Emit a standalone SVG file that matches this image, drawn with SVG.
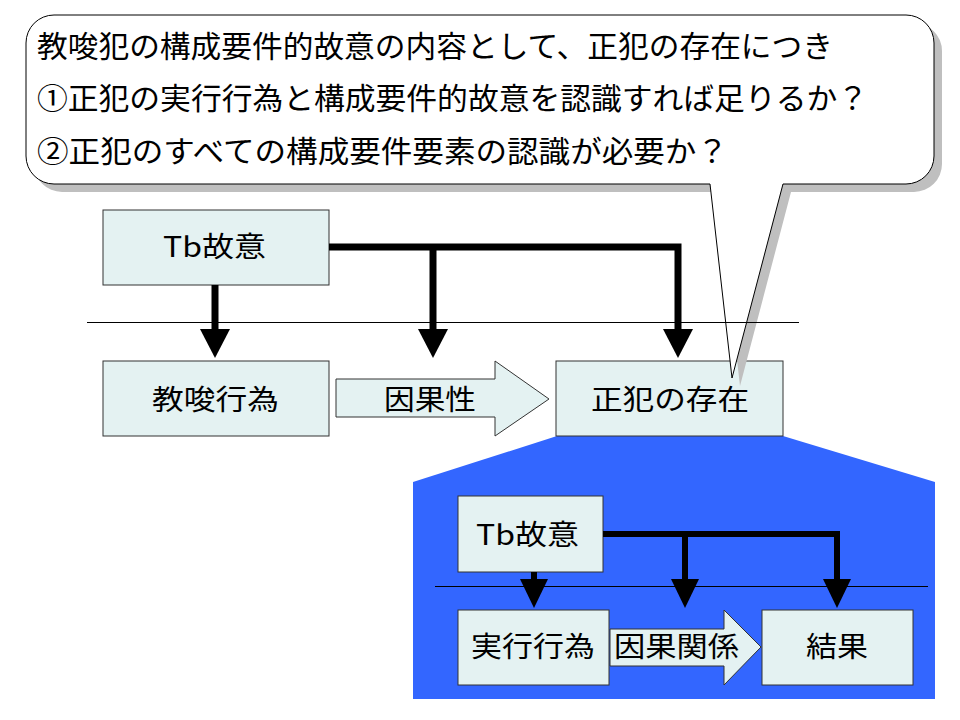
<svg xmlns="http://www.w3.org/2000/svg" width="960" height="720" viewBox="0 0 960 720">
  <defs>
    <style>
      .box { fill: #E4F2F2; stroke: #333333; stroke-width: 1; }
      .lbl { font-family: "Noto Sans CJK JP", "Liberation Sans", sans-serif; font-size: 28px; fill: #000000; }
      .big { font-family: "Noto Sans CJK JP", "Liberation Sans", sans-serif; font-size: 30px; fill: #000000; }
      .conn { fill: none; stroke: #000000; stroke-width: 7; stroke-linejoin: miter; }
      .conn2 { fill: none; stroke: #000000; stroke-width: 6; stroke-linejoin: miter; }
      .head { fill: #000000; stroke: none; }
      .rule { stroke: #000000; stroke-width: 1; fill: none; }
    </style>
  </defs>
  <rect x="0" y="0" width="960" height="720" fill="#FFFFFF"/>

  <!-- blue expansion region -->
  <polygon id="detail-region" points="557,436 783,436 935,482 935,699 413,699 413,482" fill="#3366FF"/>

  <!-- top level nodes -->
  <g id="tb-intent">
    <rect class="box" x="103" y="210" width="226" height="75"/>
    <text class="lbl" x="163" y="257" textLength="103" lengthAdjust="spacingAndGlyphs">Tb故意</text>
  </g>
  <g id="instigation">
    <rect class="box" x="103" y="361" width="226" height="75"/>
    <text class="lbl" x="152" y="410" textLength="127" lengthAdjust="spacingAndGlyphs">教唆行為</text>
  </g>
  <g id="causality">
    <polygon class="box" points="336,379 495,379 495,361 549,399 495,436 495,417 336,417"/>
    <text class="lbl" x="384" y="410" textLength="92" lengthAdjust="spacingAndGlyphs">因果性</text>
  </g>
  <g id="principal">
    <rect class="box" x="556" y="361" width="227" height="75"/>
    <text class="lbl" x="591" y="410" textLength="158" lengthAdjust="spacingAndGlyphs">正犯の存在</text>
  </g>

  <!-- inner nodes -->
  <g id="tb-intent-2">
    <rect class="box" x="458" y="496" width="145" height="76"/>
    <text class="lbl" x="476" y="545" textLength="103" lengthAdjust="spacingAndGlyphs">Tb故意</text>
  </g>
  <g id="act">
    <rect class="box" x="458" y="610" width="151" height="75"/>
    <text class="lbl" x="471" y="657" textLength="124" lengthAdjust="spacingAndGlyphs">実行行為</text>
  </g>
  <g id="causal-relation">
    <polygon class="box" points="610,629 724,629 724,610 761,647 724,685 724,666 610,666"/>
    <text class="lbl" x="614" y="657" textLength="125" lengthAdjust="spacingAndGlyphs">因果関係</text>
  </g>
  <g id="result">
    <rect class="box" x="762" y="610" width="151" height="75"/>
    <text class="lbl" x="806" y="657" textLength="62" lengthAdjust="spacingAndGlyphs">結果</text>
  </g>

  <!-- connectors -->
  <g id="connectors">
    <line class="conn" x1="215" y1="285" x2="215" y2="331"/>
    <polygon class="head" points="200,329 230,329 215,358"/>
    <path class="conn" d="M329,247 H678 V331"/>
    <line class="conn" x1="433" y1="247" x2="433" y2="331"/>
    <polygon class="head" points="418,329 448,329 433,358"/>
    <polygon class="head" points="663,329 693,329 678,358"/>

    <line class="conn2" x1="534" y1="572" x2="534" y2="581"/>
    <polygon class="head" points="520,579 548,579 534,608"/>
    <path class="conn2" d="M603,534 H837 V581"/>
    <line class="conn2" x1="685" y1="534" x2="685" y2="581"/>
    <polygon class="head" points="671,579 699,579 685,608"/>
    <polygon class="head" points="823,579 851,579 837,608"/>
  </g>

  <!-- callout -->
  <g id="callout">
    <path transform="translate(8,8)" d="M54,15 H906 A28,28 0 0 1 934,43 V156 A28,28 0 0 1 906,184 H783 L732,378 L710,184 H54 A28,28 0 0 1 26,156 V43 A28,28 0 0 1 54,15 Z" fill="#BFBFBF"/>
    <path d="M54,15 H906 A28,28 0 0 1 934,43 V156 A28,28 0 0 1 906,184 H783 L732,378 L710,184 H54 A28,28 0 0 1 26,156 V43 A28,28 0 0 1 54,15 Z" fill="#FFFFFF" stroke="#000000" stroke-width="1"/>
    <text class="big" x="37" y="57" textLength="796" lengthAdjust="spacingAndGlyphs">教唆犯の構成要件的故意の内容として、正犯の存在につき</text>
    <text class="big" x="37" y="109" textLength="831" lengthAdjust="spacingAndGlyphs">①正犯の実行行為と構成要件的故意を認識すれば足りるか？</text>
    <text class="big" x="37" y="162" textLength="691" lengthAdjust="spacingAndGlyphs">②正犯のすべての構成要件要素の認識が必要か？</text>
  </g>

  <!-- divider lines -->
  <line class="rule" x1="87" y1="322.5" x2="799" y2="322.5"/>
  <line class="rule" x1="435" y1="586.5" x2="928" y2="586.5"/>
</svg>
